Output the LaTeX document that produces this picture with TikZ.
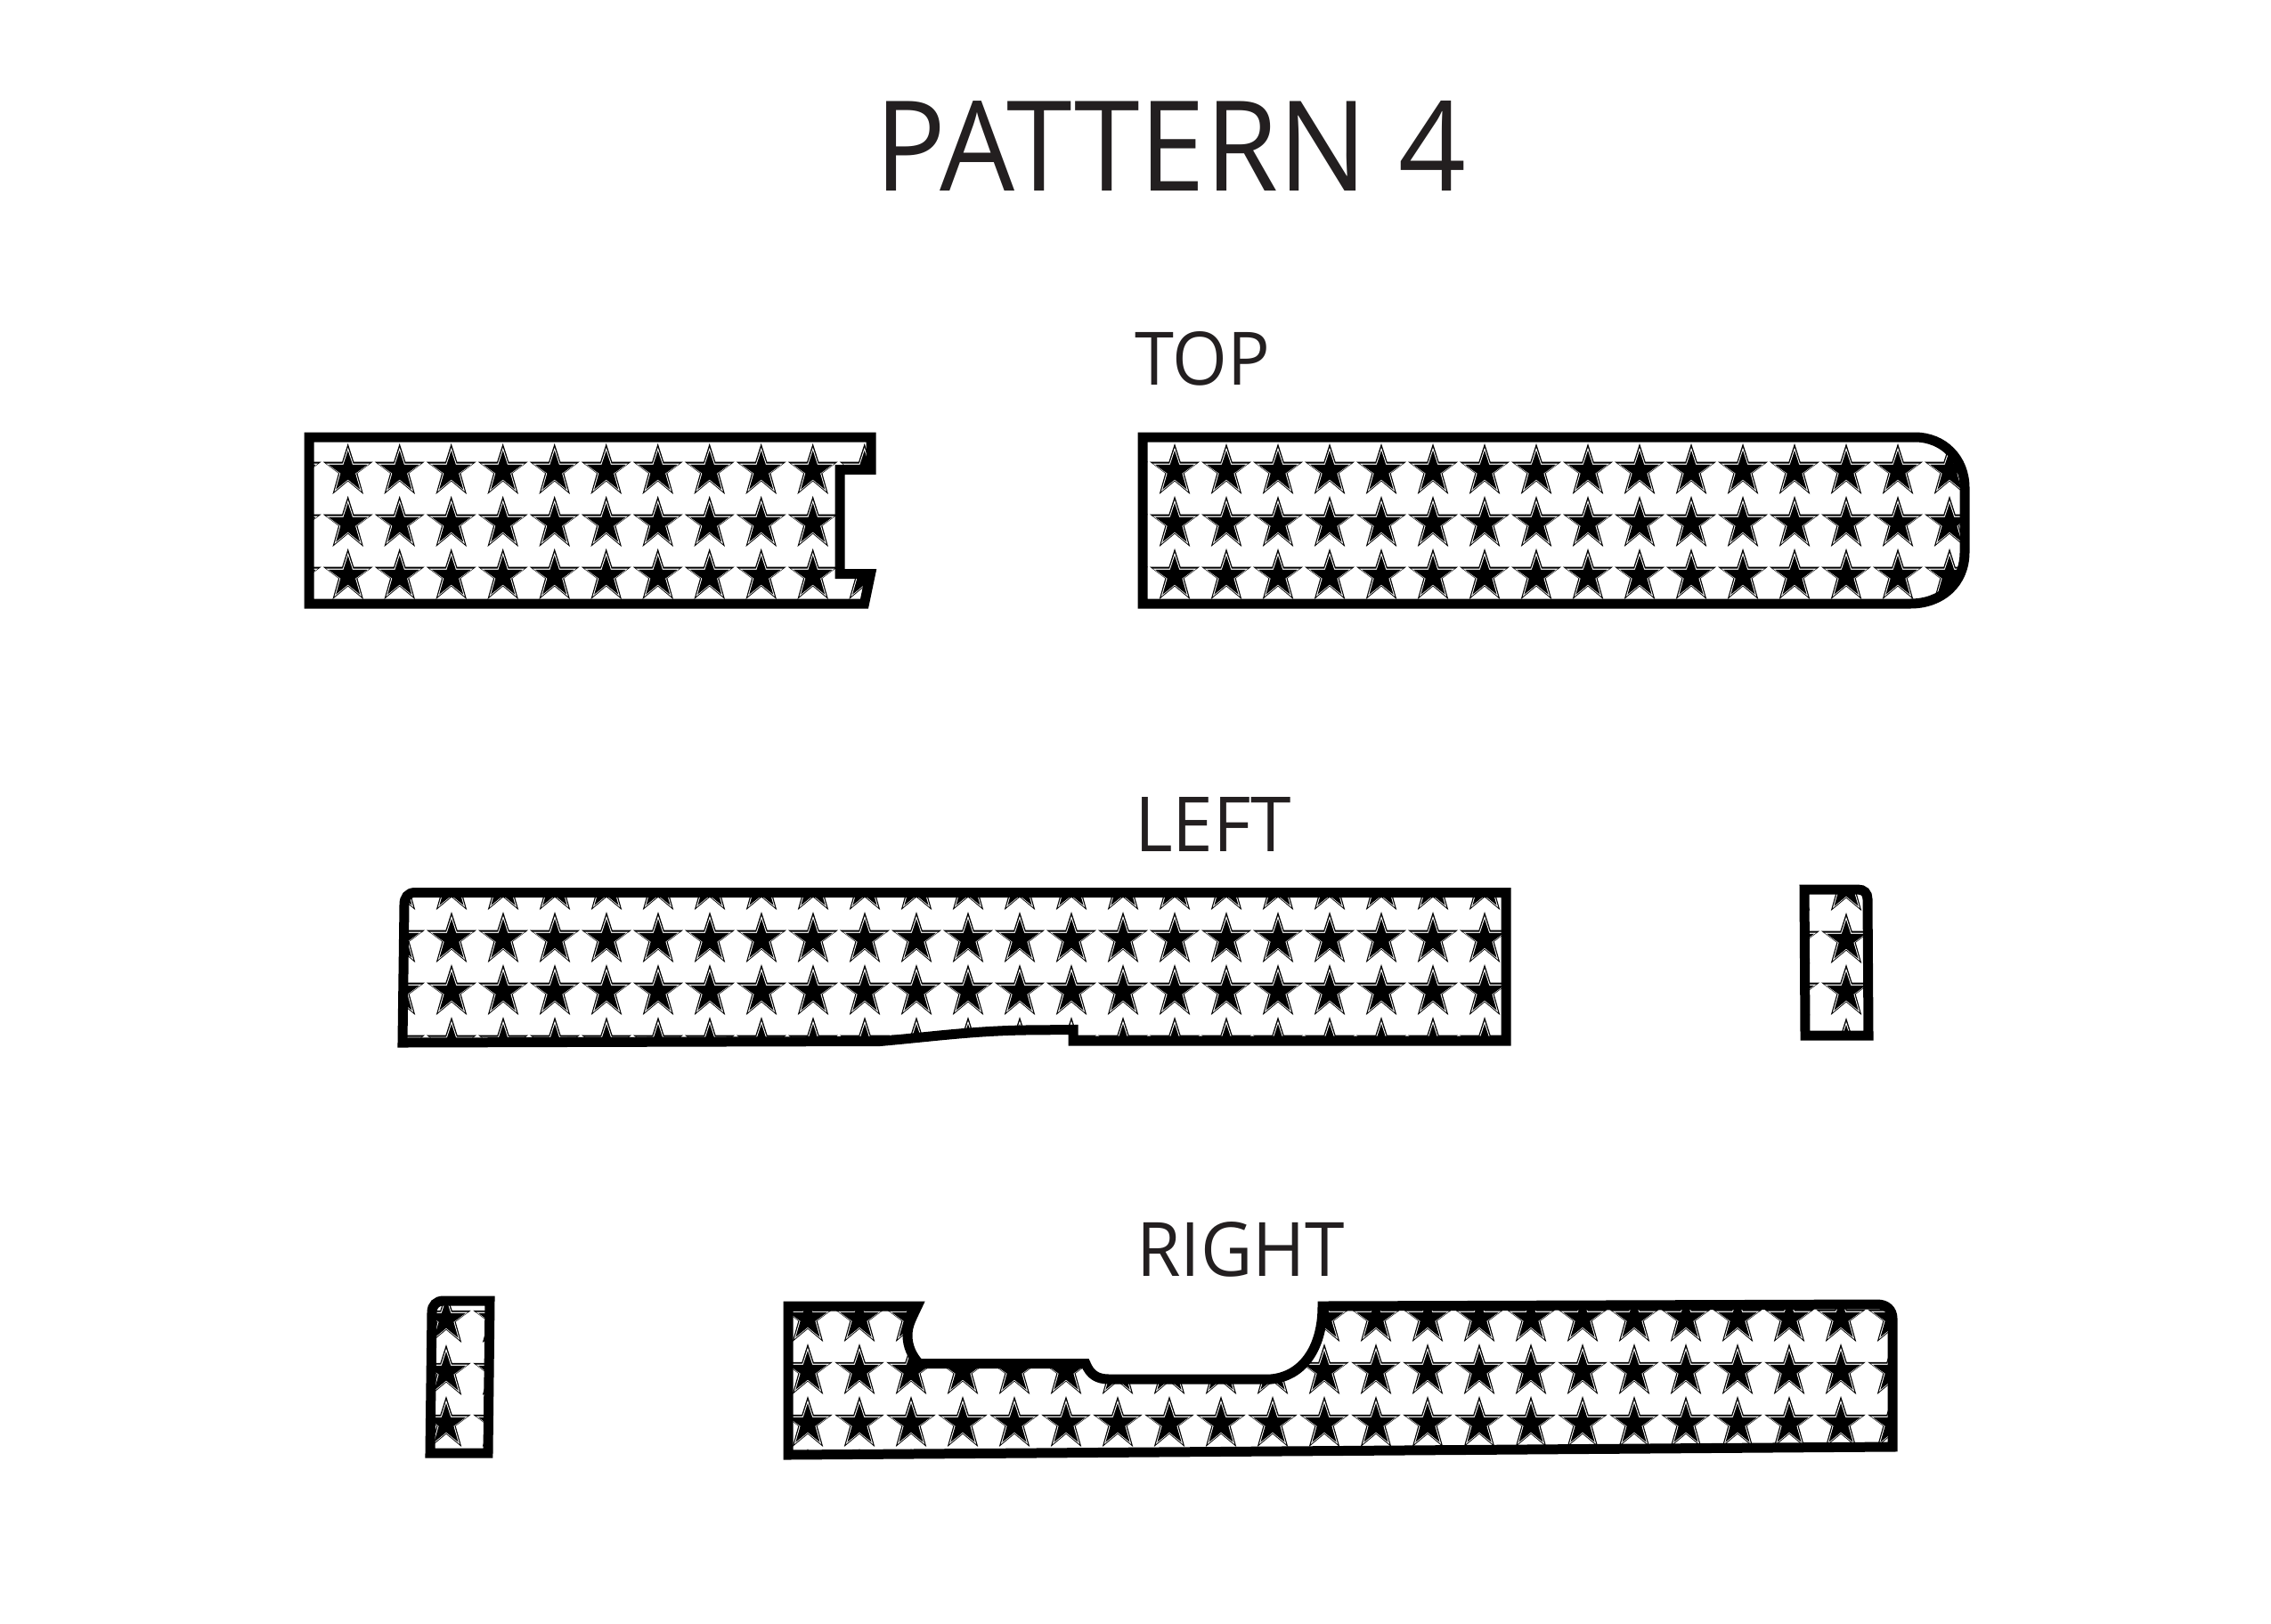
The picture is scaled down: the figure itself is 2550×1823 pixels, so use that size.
\documentclass[tikz,border=0pt]{standalone}
\usepackage{fontspec}
\setmainfont{Open Sans}
\definecolor{inkt}{HTML}{231F20}
\newcommand\pentapath{(0,-1)--(.2245,-.309)--(.951,-.309)--(.3633,.118)--(.5878,.9)--(0,.42)--(-.5878,.9)--(-.3633,.118)--(-.951,-.309)--(-.2245,-.309)--cycle}
\newcommand\onestar[2]{%
  \fill[black,shift={(#1,#2+30)},x=29.3pt,y=-30pt] \pentapath;
  \fill[white,shift={(#1,#2+30.6)},x=25.8pt,y=-26pt] \pentapath;
  \fill[black,shift={(#1,#2+31)},x=23pt,y=-23pt] \pentapath;}
\newcommand\starfield[2]{\foreach \rr in {#1}{\foreach \cc in {#2}{\onestar{\cc}{\rr}}}}
\newcommand\piece[3]{%
  \begin{scope}\clip #1;\starfield{#2}{#3}\end{scope}
  \draw[frame] #1;}
\tikzset{frame/.style={draw=black,line width=11pt,line join=miter,miter limit=4},
  titletext/.style={inner sep=0pt,outer sep=0pt,anchor=base west,text=inkt}}
\begin{document}
\begin{tikzpicture}[x=1pt,y=-1pt]
\useasboundingbox (0,0) rectangle (2550,1823);
\fill[white] (0,0) rectangle (2550,1823);
\node[titletext] (title) at (982,214) {\resizebox{664pt}{101pt}{PATTERN 4}};
\node[titletext] (top) at (1274,432) {\resizebox{152pt}{60pt}{TOP}};
\node[titletext] (left) at (1274,956) {\resizebox{176pt}{61pt}{LEFT}};
\node[titletext] (right) at (1276,1433) {\resizebox{234pt}{61pt}{RIGHT}};
% TOP, left piece
\piece{(347,491)--(978,491)--(978,527.5)--(943,527.5)--(943,644.5)--(977.5,644.5)--(970.5,678)--(347,678)--cycle}
  {439,498,557,616}{332.7,390.7,...,1000}
% TOP, right piece
\piece{(1283,491)--(2150,491).. controls (2182,491) and (2206,515) .. (2206,548)--(2206,620).. controls (2206,655) and (2180,678) .. (2145,678)--(1283,678)--cycle}
  {439,498,557,616}{1261,1319,...,2260}
% LEFT, long piece
\piece{(452,1171)--(454,1016).. controls (454,1008) and (458,1002.5) .. (466,1002.5)--(1691,1002.5)--(1691,1169)--(1205,1169)--(1205,1156.5)--(1150,1157).. controls (1090,1158) and (1040,1165) .. (988,1169.5)--cycle}
  {965,1024,1083,1142}{449,507,...,1730}
% LEFT, small piece
\piece{(2027,1163)--(2026,999)--(2086,999).. controls (2093,999) and (2097,1003) .. (2097,1010)--(2098,1163)--cycle}
  {966,1025,1083,1143}{2015,2073,2131}
% RIGHT, small piece
\piece{(483,1632)--(485,1474).. controls (485,1466) and (490,1461) .. (498,1461)--(550,1461)--(548,1632)--cycle}
  {1451,1510,1568,1627}{443,501,559}
% RIGHT, long piece
\piece{(885,1467)--(1030,1467).. controls (1024,1480) and (1019,1488) .. (1019,1500).. controls (1019,1512) and (1024,1523) .. (1032,1531.5)--(1219,1531.5).. controls (1224,1544) and (1232,1549) .. (1245,1549)--(1427,1549) .. controls (1462,1546) and (1485,1515) .. (1485,1467)--(2108,1465).. controls (2118,1465) and (2125,1471) .. (2125,1481)--(2125,1625)--(885,1634)--cycle}
  {1450,1509,1568,1627}{849,907,...,2190}
\end{tikzpicture}
\end{document}
